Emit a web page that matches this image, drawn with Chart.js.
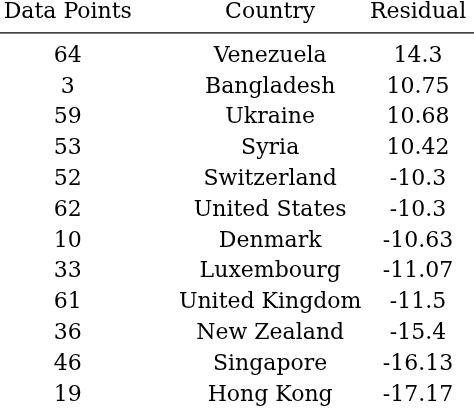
<!DOCTYPE html>
<html><head><meta charset="utf-8">
<script src="https://cdn.jsdelivr.net/npm/chart.js@4"></script>
<style>html,body{margin:0;padding:0;background:#fff}#w{width:474px;height:409px}</style>
</head><body><div id="w"><canvas id="c"></canvas></div>
<script>
const headers = ["Data Points", "Country", "Residual"];
const dataPoints = [64, 3, 59, 53, 52, 62, 10, 33, 61, 36, 46, 19];
const countries = ["Venezuela","Bangladesh","Ukraine","Syria","Switzerland","United States","Denmark","Luxembourg","United Kingdom","New Zealand","Singapore","Hong Kong"];
const residuals = ["14.3","10.75","10.68","10.42","-10.3","-10.3","-10.63","-11.07","-11.5","-15.4","-16.13","-17.17"];

const colX = [0.143, 0.57, 0.882];
const font = '22px "DejaVu Serif", "Liberation Serif", serif';

const tablePlugin = {
  id: 'table',
  afterDraw(chart) {
    const ctx = chart.ctx, xs = chart.scales.x, ys = chart.scales.y;
    ctx.save();
    ctx.fillStyle = '#000';
    ctx.font = font;
    ctx.textAlign = 'center';
    ctx.textBaseline = 'middle';
    headers.forEach((h, j) => ctx.fillText(h, xs.getPixelForValue(colX[j]), ys.getPixelForValue(-1.43)));
    const ly = ys.getPixelForValue(-0.75);
    ctx.strokeStyle = '#000'; ctx.lineWidth = 1.2;
    ctx.beginPath(); ctx.moveTo(0, ly); ctx.lineTo(chart.width, ly); ctx.stroke();
    dataPoints.forEach((d, i) => {
      const y = ys.getPixelForValue(i);
      ctx.fillText(String(d), xs.getPixelForValue(colX[0]), y);
      ctx.fillText(countries[i], xs.getPixelForValue(colX[1]), y);
      ctx.fillText(residuals[i], xs.getPixelForValue(colX[2]), y);
    });
    ctx.restore();
  }
};

new Chart(document.getElementById('c'), {
  type: 'scatter',
  data: { datasets: [{ data: dataPoints.map((d, i) => ({x: colX[0], y: i})), pointRadius: 0 }] },
  options: {
    responsive: true, maintainAspectRatio: false, animation: false,
    layout: { padding: 0 },
    plugins: { legend: {display: false}, tooltip: {enabled: false} },
    scales: {
      x: { type: 'linear', min: 0, max: 1, display: false },
      y: { type: 'linear', min: -1.818, max: 11.46, reverse: true, display: false }
    }
  },
  plugins: [tablePlugin]
});
</script></body></html>
